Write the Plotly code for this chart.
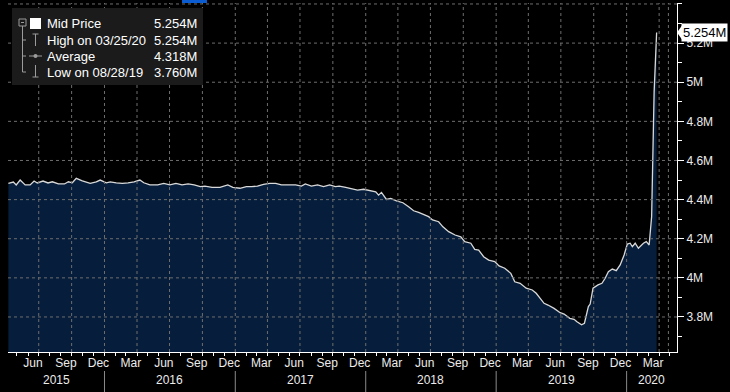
import plotly.graph_objects as go
import pandas as pd

# ---------------- data ----------------
dates = [
    "2015-04-07", "2015-04-21", "2015-04-29", "2015-05-10", "2015-05-24", "2015-06-07",
    "2015-06-18", "2015-06-27", "2015-07-13", "2015-07-27", "2015-08-08", "2015-08-25",
    "2015-09-11", "2015-09-22", "2015-10-03", "2015-10-14", "2015-10-31", "2015-11-22",
    "2015-12-09", "2015-12-20", "2016-01-06", "2016-01-17", "2016-02-03", "2016-02-20",
    "2016-03-07", "2016-03-24", "2016-04-09", "2016-04-20", "2016-05-07", "2016-05-29",
    "2016-06-15", "2016-07-02", "2016-07-19", "2016-08-05", "2016-08-22", "2016-09-08",
    "2016-09-25", "2016-10-08", "2016-10-28", "2016-11-19", "2016-12-11", "2016-12-25",
    "2017-01-14", "2017-02-01", "2017-02-16", "2017-03-04", "2017-03-21", "2017-04-07",
    "2017-04-24", "2017-05-10", "2017-06-02", "2017-06-19", "2017-07-05", "2017-07-16",
    "2017-08-02", "2017-08-19", "2017-09-05", "2017-09-22", "2017-10-08", "2017-10-19",
    "2017-11-06", "2017-11-22", "2017-12-09", "2017-12-26", "2018-01-12", "2018-01-29",
    "2018-02-06", "2018-02-14", "2018-02-28", "2018-03-12", "2018-03-28", "2018-04-15",
    "2018-05-01", "2018-05-15", "2018-05-29", "2018-06-12", "2018-06-26", "2018-07-07",
    "2018-07-24", "2018-08-05", "2018-08-21", "2018-09-08", "2018-09-24", "2018-10-05",
    "2018-10-22", "2018-11-02", "2018-11-13", "2018-11-27", "2018-12-11", "2018-12-28",
    "2019-01-09", "2019-01-25", "2019-02-11", "2019-02-22", "2019-03-09", "2019-03-26",
    "2019-04-12", "2019-04-23", "2019-05-04", "2019-05-15", "2019-05-26", "2019-06-12",
    "2019-06-29", "2019-07-10", "2019-07-26", "2019-08-07", "2019-08-15", "2019-08-28",
    "2019-09-05", "2019-09-10", "2019-09-16", "2019-09-21", "2019-09-29", "2019-10-13",
    "2019-10-24", "2019-11-02", "2019-11-11", "2019-11-22", "2019-12-03", "2019-12-14",
    "2019-12-25", "2020-01-03", "2020-01-11", "2020-01-17", "2020-01-25", "2020-02-03",
    "2020-02-17", "2020-02-25", "2020-03-04", "2020-03-11", "2020-03-18", "2020-03-25",
]
mid_price = [
    4.483, 4.490, 4.475, 4.500, 4.475, 4.475,
    4.495, 4.485, 4.495, 4.485, 4.491, 4.480,
    4.480, 4.491, 4.486, 4.509, 4.496, 4.483,
    4.491, 4.500, 4.486, 4.491, 4.486, 4.483,
    4.486, 4.491, 4.500, 4.486, 4.475, 4.475,
    4.483, 4.475, 4.483, 4.475, 4.480, 4.475,
    4.466, 4.469, 4.463, 4.463, 4.475, 4.463,
    4.458, 4.466, 4.466, 4.469, 4.478, 4.483,
    4.483, 4.475, 4.475, 4.475, 4.469, 4.480,
    4.469, 4.475, 4.466, 4.475, 4.466, 4.469,
    4.463, 4.458, 4.449, 4.453, 4.445, 4.440,
    4.423, 4.437, 4.401, 4.406, 4.394, 4.384,
    4.364, 4.343, 4.335, 4.326, 4.313, 4.296,
    4.287, 4.261, 4.236, 4.219, 4.210, 4.185,
    4.177, 4.146, 4.142, 4.108, 4.091, 4.083,
    4.061, 4.049, 4.023, 3.980, 3.972, 3.947,
    3.938, 3.921, 3.896, 3.870, 3.861, 3.844,
    3.822, 3.815, 3.793, 3.788, 3.776, 3.760,
    3.768, 3.802, 3.853, 3.866, 3.947, 3.964,
    3.972, 3.998, 4.031, 4.045, 4.037, 4.066,
    4.117, 4.173, 4.177, 4.159, 4.177, 4.151,
    4.177, 4.185, 4.168, 4.312, 4.950, 5.254,
]
average_value = 4.318

y_tick_vals = [3.8, 4.0, 4.2, 4.4, 4.6, 4.8, 5.0, 5.2]
y_tick_text = ["3.8M", "4M", "4.2M", "4.4M", "4.6M", "4.8M", "5M", "5.2M"]

x_tick_dates = [
    "2015-06-15", "2015-09-15", "2015-12-15",
    "2016-03-15", "2016-06-15", "2016-09-15", "2016-12-15",
    "2017-03-15", "2017-06-15", "2017-09-15", "2017-12-15",
    "2018-03-15", "2018-06-15", "2018-09-15", "2018-12-15",
    "2019-03-15", "2019-06-15", "2019-09-15", "2019-12-15",
    "2020-03-15",
]
x_tick_text = [
    "Jun", "Sep", "Dec",
    "Mar", "Jun", "Sep", "Dec",
    "Mar", "Jun", "Sep", "Dec",
    "Mar", "Jun", "Sep", "Dec",
    "Mar", "Jun", "Sep", "Dec",
    "Mar",
]
year_labels = ["2015", "2016", "2017", "2018", "2019", "2020"]

# ---------------- layout geometry / style ----------------
W, H = 730, 392
L, R, T, B = 8, 53, 3, 40
x_range = ["2015-04-06", "2020-05-21"]
y_range = [3.621, 5.405]
FONT = "Liberation Sans, Arial, sans-serif"
GRID = "#6e6e6e"
TXT = "#ececec"

PW = W - L - R
PH = H - T - B


def px(x):
    return (x - L) / PW


def py(y):
    return (H - B - y) / PH


fig = go.Figure()
fig.add_trace(go.Scatter(
    x=dates, y=mid_price, mode="lines",
    line=dict(color="#d9d9d9", width=1.3),
    fill="tozeroy", fillcolor="#061e3b",
    hoverinfo="skip", showlegend=False,
))

shapes = []
annotations = []

# horizontal dashed grid
for v in y_tick_vals + [5.4]:
    shapes.append(dict(type="line", xref="paper", x0=0, x1=1, yref="y", y0=v, y1=v,
                       line=dict(color=GRID, width=1, dash="3px,3px"), layer="above"))
# vertical dashed grid (quarterly)
grid_dates = list(pd.date_range("2015-07-01", "2020-04-01", freq="3MS")) + [pd.Timestamp("2020-04-27")]
for d in grid_dates:
    shapes.append(dict(type="line", xref="x", x0=d, x1=d, yref="paper", y0=0, y1=1,
                       line=dict(color=GRID, width=1, dash="3px,3px"), layer="above"))

# year separators and labels
x0r, x1r = pd.Timestamp(x_range[0]), pd.Timestamp(x_range[1])
for yl in year_labels:
    ys = pd.Timestamp(f"{yl}-01-01")
    ye = pd.Timestamp(f"{int(yl) + 1}-01-01")
    if ys > x0r:
        shapes.append(dict(type="line", xref="x", x0=ys, x1=ys, yref="paper",
                           y0=py(371), y1=py(392), line=dict(color="#8a8a8a", width=1)))
    a = max(ys, x0r)
    b = min(ye, x1r)
    mid = a + (b - a) / 2
    annotations.append(dict(x=mid, xref="x", y=py(380), yref="paper", text=yl,
                            showarrow=False, xanchor="center", yanchor="middle",
                            font=dict(family=FONT, size=12, color=TXT)))

# top blue marker
shapes.append(dict(type="rect", xref="paper", yref="paper", x0=px(182), x1=px(207),
                   y0=py(3), y1=py(0), fillcolor="#0b5cd0", line=dict(width=0)))

# legend box
shapes.append(dict(type="rect", xref="paper", yref="paper", x0=px(12), x1=px(203),
                   y0=py(85), y1=py(8), fillcolor="#1b1b1b", line=dict(width=0), layer="above"))
ICON = "#9c9c9c"


def seg(x0, y0, x1, y1, color=ICON, w=1):
    shapes.append(dict(type="line", xref="paper", yref="paper", x0=px(x0), x1=px(x1),
                       y0=py(y0), y1=py(y1), line=dict(color=color, width=w), layer="above"))


# tree collapse box
shapes.append(dict(type="rect", xref="paper", yref="paper", x0=px(19), x1=px(26),
                   y0=py(26), y1=py(19), line=dict(color=ICON, width=1), layer="above"))
seg(21, 22.5, 24, 22.5)
seg(22.5, 26, 22.5, 72)
for ry in [40, 56, 72]:
    seg(22.5, ry, 26, ry)
# mid price white square
shapes.append(dict(type="rect", xref="paper", yref="paper", x0=px(30), x1=px(41),
                   y0=py(29), y1=py(18), fillcolor="#ffffff", line=dict(width=0), layer="above"))
# high icon
seg(35.5, 34, 35.5, 46)
seg(32.5, 34, 38.5, 34)
# average icon
seg(29, 56, 42, 56)
shapes.append(dict(type="circle", xref="paper", yref="paper", x0=px(33.5), x1=px(37.5),
                   y0=py(58), y1=py(54), fillcolor=ICON, line=dict(width=0), layer="above"))
# low icon
seg(35.5, 65, 35.5, 77)
seg(32.5, 77, 38.5, 77)

i_hi = mid_price.index(max(mid_price))
i_lo = mid_price.index(min(mid_price))
hi_date = pd.Timestamp(dates[i_hi]).strftime("%m/%d/%y")
lo_date = pd.Timestamp(dates[i_lo]).strftime("%m/%d/%y")
legend_labels = ["Mid Price", f"High on {hi_date}", "Average", f"Low on {lo_date}"]
legend_values = [f"{mid_price[-1]:.3f}M", f"{max(mid_price):.3f}M",
                 f"{average_value:.3f}M", f"{min(mid_price):.3f}M"]
for ry, lab, val in zip([24, 40, 56, 72], legend_labels, legend_values):
    annotations.append(dict(x=px(45), y=py(ry), xref="paper", yref="paper", text=lab,
                            showarrow=False, xanchor="left", yanchor="middle",
                            font=dict(family=FONT, size=13, color="#ffffff")))
    annotations.append(dict(x=px(199), y=py(ry), xref="paper", yref="paper", text=val,
                            showarrow=False, xanchor="right", yanchor="middle",
                            font=dict(family=FONT, size=13, color="#ffffff")))

# last value tag on the right axis
last = mid_price[-1]
shapes.append(dict(type="path", xref="paper", xsizemode="pixel", xanchor=1,
                   yref="y", ysizemode="pixel", yanchor=last,
                   path="M 0,0 L 5,7 L 5,-7 Z", fillcolor="#ffffff", line=dict(width=0)))
annotations.append(dict(x=1, xref="paper", y=last, yref="y", text=f"{last:.3f}M",
                        showarrow=False, xanchor="left", yanchor="middle", xshift=4,
                        bgcolor="#ffffff", borderpad=1,
                        font=dict(family=FONT, size=13, color="#000000")))

fig.update_layout(
    width=W, height=H,
    margin=dict(l=L, r=R, t=T, b=B, pad=0, autoexpand=False),
    paper_bgcolor="#000000", plot_bgcolor="#000000",
    showlegend=False,
    shapes=shapes, annotations=annotations,
    xaxis=dict(
        type="date", range=x_range, showgrid=False, zeroline=False,
        showline=True, linecolor="#ffffff", linewidth=1, automargin=False,
        tickmode="array", tickvals=x_tick_dates, ticktext=x_tick_text, ticks="",
        tickfont=dict(family=FONT, size=12, color=TXT),
        minor=dict(tickmode="linear", tick0="2015-01-01", dtick="M1", ticks="outside",
                   ticklen=3, tickcolor="#ffffff", showgrid=False),
        fixedrange=True,
    ),
    yaxis=dict(
        side="right", range=y_range, showgrid=False, zeroline=False,
        showline=True, linecolor="#ffffff", linewidth=1, automargin=False,
        tickmode="array", tickvals=y_tick_vals, ticktext=y_tick_text,
        ticks="outside", ticklen=6, tickcolor="#ffffff",
        tickfont=dict(family=FONT, size=12, color=TXT),
        minor=dict(tickmode="linear", tick0=3.7, dtick=0.1, ticks="outside",
                   ticklen=4, tickcolor="#ffffff", showgrid=False),
        fixedrange=True,
    ),
)

fig.write_html("out.html", config={"displayModeBar": False})

# remove the browser's default page margin so the chart sits at the top-left corner
with open("out.html", "r", encoding="utf-8") as f:
    html = f.read()
html = html.replace("<head>", "<head><style>html,body{margin:0;padding:0;background:#000;overflow:hidden;}</style>", 1)
with open("out.html", "w", encoding="utf-8") as f:
    f.write(html)
